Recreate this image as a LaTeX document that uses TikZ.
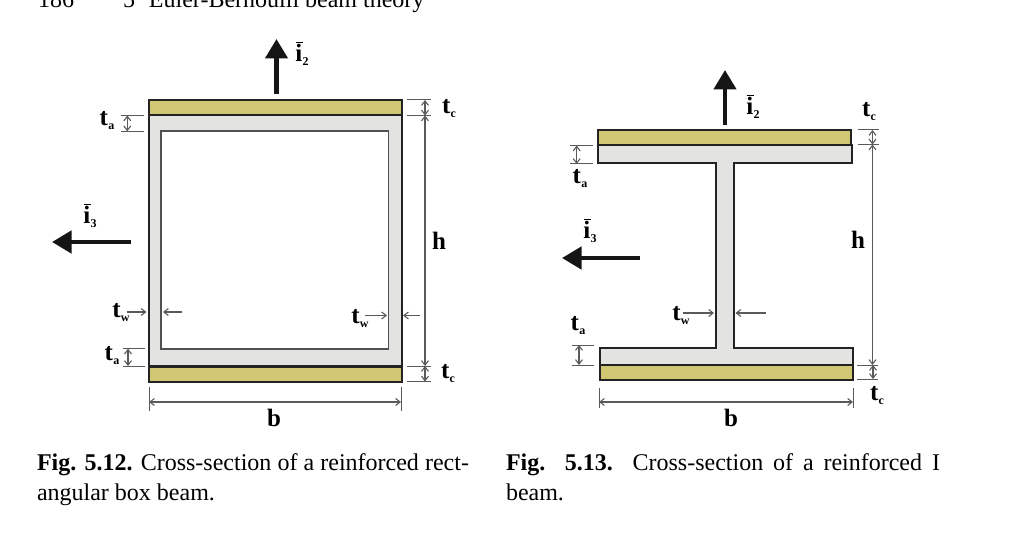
\documentclass[tikz,border=0pt]{standalone}
\usepackage{fontspec}
\setmainfont{Liberation Serif}
\usetikzlibrary{arrows.meta}
\definecolor{webgray}{HTML}{E3E3E2}
\definecolor{capyellow}{HTML}{D1C671}
\definecolor{outlc}{HTML}{232323}
\definecolor{dimc}{HTML}{5A5A5A}
\newcommand{\tlab}[1]{\fontsize{25}{25}\selectfont\bfseries t\kern0.3pt\raisebox{-4pt}{\fontsize{12}{12}\selectfont #1}}
\newcommand{\ibar}[1]{\fontsize{25}{25}\selectfont\bfseries\rlap{\kern0.6pt\rule[18.5pt]{7pt}{1.5pt}}i\kern0.3pt\raisebox{-4pt}{\fontsize{12}{12}\selectfont #1}}
\tikzset{
  x=1pt,y=-1pt,
  outlsty/.style={draw=outlc,line width=2pt},
  innerl/.style={draw=dimc!90!black,line width=1.6pt},
  extl/.style={draw=dimc,line width=1pt},
  dimline/.style={draw=dimc,line width=1.1pt,{Straight Barb[length=4.5pt,width=7pt]}-{Straight Barb[length=4.5pt,width=7pt]}},
  oneway/.style={draw=dimc,line width=1.1pt,-{Straight Barb[length=4.5pt,width=7pt]}},
  axisarrow/.style={draw=outlc!60!black,line width=4.5pt,-{Triangle[length=19.5pt,width=22pt]}},
  lab/.style={inner sep=0pt,outer sep=0pt,anchor=center},
  biglab/.style={lab,font=\fontsize{25}{25}\selectfont\bfseries},
  captxt/.style={inner sep=0pt,outer sep=0pt,anchor=base west,font=\fontsize{24}{24}\selectfont}
}
\begin{document}
\begin{tikzpicture}
\useasboundingbox (0,0) rectangle (1024,556);
\clip (0,0) rectangle (1024,556);
\fill[white] (0,0) rectangle (1024,556);
% header
\node[captxt] (hnum) at (38,8) {186};
\node[captxt] (htitle) at (123,8) {5\hspace{14pt}Euler-Bernoulli beam theory};
% ---------- box beam
\path[fill=webgray] (148.5,115.5) rectangle (401.5,366);
\path[fill=white,innerl] (161,131.3) rectangle (388.3,348.7);
\draw[outlsty] (148.5,115.5) -- (148.5,366) (401.5,115.5) -- (401.5,366);
\path[fill=capyellow,outlsty] (148.5,100) rectangle (401.5,115.5);
\path[fill=capyellow,outlsty] (148.5,366) rectangle (401.5,381.5);
\draw[draw=outlc,line width=3pt] (148.5,366) -- (401.5,366);
% axes
\coordinate (a2s) at (276.5,94); \coordinate (a2e) at (276.5,39);
\draw[axisarrow] (a2s) -- (a2e);
\coordinate (a3s) at (131,242); \coordinate (a3e) at (52,242);
\draw[axisarrow] (a3s) -- (a3e);
\node[lab] (i2a) at (302,54) {\ibar{2}};
\node[lab] (i3a) at (90,216) {\ibar{3}};
% ta top
\coordinate (ta1l) at (121,115.5); \coordinate (ta1r) at (144,115.5);
\coordinate (ta2l) at (121,131.3); \coordinate (ta2r) at (144,131.3);
\draw[extl] (ta1l) -- (ta1r); \draw[extl] (ta2l) -- (ta2r);
\coordinate (ta1a) at (127.3,115.5); \coordinate (ta1b) at (127.3,131.3);
\draw[dimline] (ta1a) -- (ta1b);
\node[lab] (talab1) at (107,121) {\tlab{a}};
% tc top
\coordinate (tc1l) at (407,100); \coordinate (tc1r) at (431,100);
\coordinate (tc2l) at (407,115.5); \coordinate (tc2r) at (431,115.5);
\draw[extl] (tc1l) -- (tc1r); \draw[extl] (tc2l) -- (tc2r);
\coordinate (tc1a) at (425,100); \coordinate (tc1b) at (425,115.5);
\draw[dimline] (tc1a) -- (tc1b);
\node[lab] (tclab1) at (449,109) {\tlab{c}};
% h
\coordinate (h1a) at (425,115.5); \coordinate (h1b) at (425,366);
\draw[dimline] (h1a) -- (h1b);
\node[biglab] (hlab1) at (439,241) {h};
% tw left
\coordinate (tw1a) at (127,312); \coordinate (tw1b) at (146.5,312);
\coordinate (tw1c) at (182,312); \coordinate (tw1d) at (163,312);
\draw[oneway] (tw1a) -- (tw1b); \draw[oneway] (tw1c) -- (tw1d);
\node[lab] (twlab1) at (121,313) {\tlab{w}};
% tw right
\coordinate (tw2a) at (365,315.5); \coordinate (tw2b) at (387,315.5);
\coordinate (tw2c) at (420,315.5); \coordinate (tw2d) at (403,315.5);
\draw[oneway] (tw2a) -- (tw2b); \draw[oneway] (tw2c) -- (tw2d);
\node[lab] (twlab2) at (360,319) {\tlab{w}};
% ta bottom
\coordinate (ta3l) at (123,348.7); \coordinate (ta3r) at (145,348.7);
\coordinate (ta4l) at (123,366); \coordinate (ta4r) at (145,366);
\draw[extl] (ta3l) -- (ta3r); \draw[extl] (ta4l) -- (ta4r);
\coordinate (ta3a) at (128,348.7); \coordinate (ta3b) at (128,366);
\draw[dimline] (ta3a) -- (ta3b);
\node[lab] (talab2) at (112,356) {\tlab{a}};
% tc bottom
\coordinate (tc3l) at (407,366); \coordinate (tc3r) at (431,366);
\coordinate (tc4l) at (407,381.5); \coordinate (tc4r) at (431,381.5);
\draw[extl] (tc3l) -- (tc3r); \draw[extl] (tc4l) -- (tc4r);
\coordinate (tc3a) at (425,366); \coordinate (tc3b) at (425,381.5);
\draw[dimline] (tc3a) -- (tc3b);
\node[lab] (tclab2) at (448,374) {\tlab{c}};
% b
\coordinate (b1a) at (149,387); \coordinate (b1b) at (149,411);
\coordinate (b1c) at (401,387); \coordinate (b1d) at (401,411);
\draw[extl] (b1a) -- (b1b); \draw[extl] (b1c) -- (b1d);
\coordinate (b1l) at (149,402); \coordinate (b1r) at (401,402);
\draw[dimline] (b1l) -- (b1r);
\node[biglab] (blab1) at (274,418) {b};
% ---------- I beam
\path[fill=webgray,outlsty] (597.5,145.3) -- (851.5,145.3) -- (851.5,163.3) -- (734.3,163.3) -- (734.3,348.3) -- (852.5,348.3) -- (852.5,365) -- (599.5,365) -- (599.5,348.3) -- (715.7,348.3) -- (715.7,163.3) -- (597.5,163.3) -- cycle;
\path[fill=capyellow,outlsty] (597.5,130) rectangle (851,145.3);
\path[fill=capyellow,outlsty] (599.5,365) rectangle (852.5,380);
% axes
\coordinate (a4s) at (725,125); \coordinate (a4e) at (725,70);
\draw[axisarrow] (a4s) -- (a4e);
\coordinate (a5s) at (640,258); \coordinate (a5e) at (562,258);
\draw[axisarrow] (a5s) -- (a5e);
\node[lab] (i2b) at (753,107) {\ibar{2}};
\node[lab] (i3b) at (590,231) {\ibar{3}};
% ta top
\coordinate (ta5l) at (570,145.5); \coordinate (ta5r) at (592.5,145.5);
\coordinate (ta6l) at (570,164); \coordinate (ta6r) at (592.5,164);
\draw[extl] (ta5l) -- (ta5r); \draw[extl] (ta6l) -- (ta6r);
\coordinate (ta5a) at (576.7,145.5); \coordinate (ta5b) at (576.7,164);
\draw[dimline] (ta5a) -- (ta5b);
\node[lab] (talab3) at (580,179) {\tlab{a}};
% tc top
\coordinate (tc5l) at (858,130); \coordinate (tc5r) at (879,130);
\coordinate (tc6l) at (858,144.5); \coordinate (tc6r) at (879,144.5);
\draw[extl] (tc5l) -- (tc5r); \draw[extl] (tc6l) -- (tc6r);
\coordinate (tc5a) at (872.5,130); \coordinate (tc5b) at (872.5,144.5);
\draw[dimline] (tc5a) -- (tc5b);
\node[lab] (tclab3) at (869,112) {\tlab{c}};
% h
\coordinate (h2a) at (872.5,144.5); \coordinate (h2b) at (872.5,365);
\draw[dimline] (h2a) -- (h2b);
\node[biglab] (hlab2) at (858,240) {h};
% tw
\coordinate (tw3a) at (683,313); \coordinate (tw3b) at (714,313);
\coordinate (tw3c) at (766,313); \coordinate (tw3d) at (735.5,313);
\draw[oneway] (tw3a) -- (tw3b); \draw[oneway] (tw3c) -- (tw3d);
\node[lab] (twlab3) at (681,316) {\tlab{w}};
% ta bottom
\coordinate (ta7l) at (572,345); \coordinate (ta7r) at (593.5,345);
\coordinate (ta8l) at (572,365); \coordinate (ta8r) at (593.5,365);
\draw[extl] (ta7l) -- (ta7r); \draw[extl] (ta8l) -- (ta8r);
\coordinate (ta7a) at (579,345); \coordinate (ta7b) at (579,365);
\draw[dimline] (ta7a) -- (ta7b);
\node[lab] (talab4) at (578,326) {\tlab{a}};
% tc bottom
\coordinate (tc7l) at (857,365); \coordinate (tc7r) at (878,365);
\coordinate (tc8l) at (857,379); \coordinate (tc8r) at (878,379);
\draw[extl] (tc7l) -- (tc7r); \draw[extl] (tc8l) -- (tc8r);
\coordinate (tc7a) at (873,365); \coordinate (tc7b) at (873,379);
\draw[dimline] (tc7a) -- (tc7b);
\node[lab] (tclab4) at (877,396) {\tlab{c}};
% b
\coordinate (b2a) at (599,388); \coordinate (b2b) at (599,408);
\coordinate (b2c) at (853,388); \coordinate (b2d) at (853,408);
\draw[extl] (b2a) -- (b2b); \draw[extl] (b2c) -- (b2d);
\coordinate (b2l) at (599,402); \coordinate (b2r) at (853,402);
\draw[dimline] (b2l) -- (b2r);
\node[biglab] (blab2) at (731,418) {b};
% captions
\node[captxt] (cap1a) at (37,470) {\makebox[432pt][s]{\textbf{Fig. 5.12.} Cross-section of a reinforced rect-}};
\node[captxt] (cap1b) at (37,500) {angular box beam.};
\node[captxt] (cap2a) at (506,470) {\makebox[434pt][s]{\textbf{Fig. 5.13.} Cross-section of a reinforced I}};
\node[captxt] (cap2b) at (506,500) {beam.};
\end{tikzpicture}
\end{document}
